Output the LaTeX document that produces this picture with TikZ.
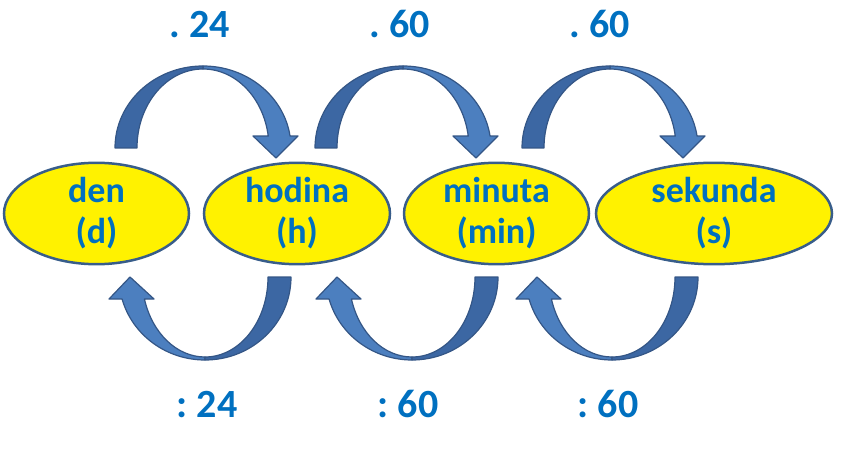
\documentclass[tikz,border=0pt]{standalone}
\usepackage{fontspec}
\setmainfont{Carlito}
\usetikzlibrary{shapes.geometric}
\definecolor{txtblue}{RGB}{0,112,192}
\definecolor{arrdark}{RGB}{60,103,163}
\definecolor{arrlight}{RGB}{76,127,191}
\definecolor{arredge}{RGB}{52,86,134}
\definecolor{elledge}{RGB}{56,93,138}
\tikzset{
  unitbox/.style={ellipse, draw=elledge, line width=2.5pt, fill=yellow,
    minimum height=95pt, inner sep=0pt, align=center,
    font=\bfseries\fontsize{36}{41}\selectfont, text=txtblue},
  factor/.style={anchor=base, inner sep=0pt, font=\bfseries\fontsize{40}{40}\selectfont, text=txtblue},
  arrpart/.style={draw=arredge, line width=1.2pt, line join=round},
  toparrow/.pic={
    \path[arrpart, fill=arrlight] (0pt,82pt) arc[start angle=90, end angle=8.4, x radius=88pt, y radius=82pt]
      -- (95pt,12pt) -- (73pt,-10pt) -- (50pt,12pt) -- (65.24pt,11.95pt)
      arc[start angle=8.7, end angle=90, x radius=66pt, y radius=79pt] -- cycle;
    \path[arrpart, fill=arrdark] (-88pt,0pt) arc[start angle=180, end angle=90, x radius=88pt, y radius=82pt]
      -- (0pt,79pt) arc[start angle=90, end angle=180, x radius=66pt, y radius=79pt] -- cycle;
  },
  botarrow/.pic={
    \path[arrpart, fill=arrlight] (0pt,-83pt) arc[start angle=270, end angle=195.4, x radius=86pt, y radius=83pt]
      -- (-96pt,-22pt) -- (-75pt,0pt) -- (-51pt,-22pt) -- (-60.56pt,-22.05pt)
      arc[start angle=196, end angle=270, x radius=63pt, y radius=80pt] -- cycle;
    \path[arrpart, fill=arrdark] (86pt,0pt) arc[start angle=0, end angle=-90, x radius=86pt, y radius=83pt]
      -- (0pt,-80pt) arc[start angle=-90, end angle=0, x radius=63pt, y radius=80pt] -- cycle;
  }
}
\begin{document}
\begin{tikzpicture}[x=1pt,y=1pt]
\useasboundingbox (0,0) rectangle (843,453);
% ellipses
\node[unitbox, minimum width=185pt] (den) at (96.5,239.5) {den\\(d)};
\node[unitbox, minimum width=186pt] (hod) at (297,239.5) {hodina\\(h)};
\node[unitbox, minimum width=185pt] (min) at (496.5,239.5) {minuta\\(min)};
\node[unitbox, minimum width=236pt] (sek) at (714,239.5) {sekunda\\(s)};
% curved arrows
\pic at (203,305) {toparrow};
\pic at (403,305) {toparrow};
\pic at (610,305) {toparrow};
\pic at (205,176) {botarrow};
\pic at (412,176) {botarrow};
\pic at (612,176) {botarrow};
% factors
\node[factor] (m1) at (200,415) {.\ 24};
\node[factor] (m2) at (400,415) {.\ 60};
\node[factor] (m3) at (600,415) {.\ 60};
\node[factor] (d1) at (207,36) {:\ 24};
\node[factor] (d2) at (408,36) {:\ 60};
\node[factor] (d3) at (608,36) {:\ 60};
\end{tikzpicture}
\end{document}
